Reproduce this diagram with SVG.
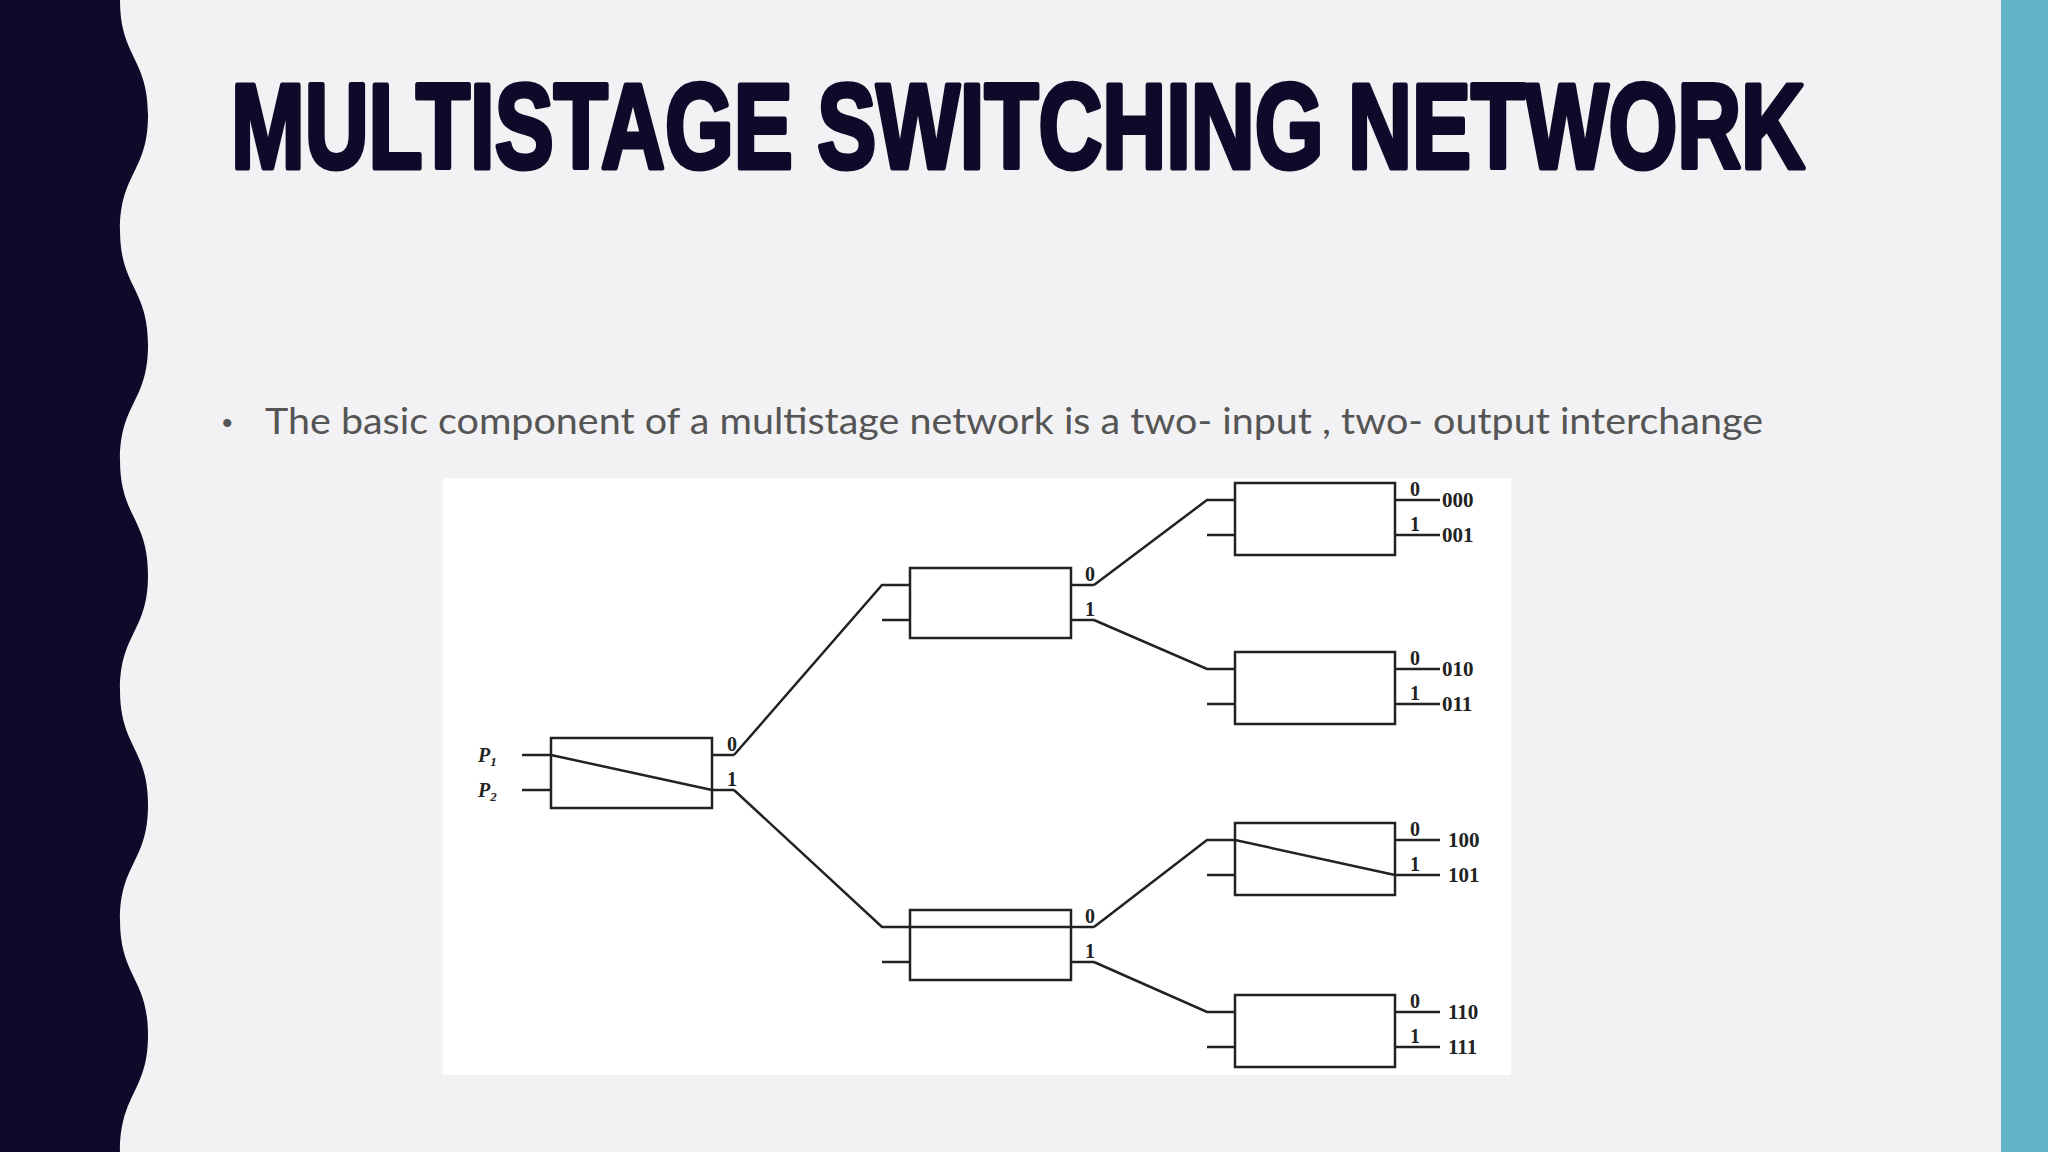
<svg xmlns="http://www.w3.org/2000/svg" width="2048" height="1152" viewBox="0 0 2048 1152">
<style>
.bx{fill:#fff;stroke:#222;stroke-width:2.5}
.ln{fill:none;stroke:#222;stroke-width:2.5}
.sm{font-family:"Liberation Serif",serif;font-weight:bold;font-size:20px;fill:#222}
.ol{font-family:"Liberation Serif",serif;font-weight:bold;font-size:21px;fill:#222}
</style>
<rect width="2048" height="1152" fill="#f2f2f4"/>
<path d="M0,0 H120 C120,57 148,58 148,115 C148,172 120,173 120,230 C120,287 148,288 148,345 C148,402 120,403 120,460 C120,517 148,518 148,575 C148,632 120,633 120,690 C120,747 148,748 148,805 C148,862 120,863 120,920 C120,977 148,978 148,1035 C148,1092 120,1093 120,1152 H0 Z" fill="#0d0a2a"/>
<rect x="2001" y="0" width="47" height="1152" fill="#62b3c6"/>
<text x="231" y="168" font-family="Liberation Sans,sans-serif" font-weight="bold" font-size="120" fill="#0d0a2a" stroke="#0d0a2a" stroke-width="5" stroke-linejoin="round" textLength="1574" lengthAdjust="spacingAndGlyphs">MULTISTAGE SWITCHING NETWORK</text>
<text x="222" y="433" font-family="Liberation Sans,sans-serif" font-size="30" fill="#555">•</text>
<text x="265" y="434" font-family="Lato,sans-serif" font-size="37" fill="#555" textLength="1498" lengthAdjust="spacingAndGlyphs">The basic component of a multistage network is a two- input , two- output interchange</text>
<rect x="443" y="478" width="1068" height="597" fill="#fff"/>
<g id="A">
<rect class="bx" x="551" y="738" width="161" height="70"/>
<path class="ln" d="M522,755 H551 M522,790 H551 M551,755 L712,790 M712,755 H734 M712,790 H734"/>
<text x="478" y="762" class="sm" font-style="italic">P<tspan font-size="13" dy="4">1</tspan></text>
<text x="478" y="797" class="sm" font-style="italic">P<tspan font-size="13" dy="4">2</tspan></text>
<text x="727" y="751" class="sm">0</text><text x="727" y="786" class="sm">1</text>
</g>
<g id="B1">
<rect class="bx" x="910" y="568" width="161" height="70"/>
<path class="ln" d="M882,620 H910 M1071,585 H1094 M1071,620 H1094"/>
<text x="1085" y="581" class="sm">0</text><text x="1085" y="616" class="sm">1</text>
</g>
<g id="B2">
<rect class="bx" x="910" y="910" width="161" height="70"/>
<path class="ln" d="M882,962 H910 M910,927 H1071 M1071,927 H1094 M1071,962 H1094"/>
<text x="1085" y="923" class="sm">0</text><text x="1085" y="958" class="sm">1</text>
</g>
<g id="C1">
<rect class="bx" x="1235" y="483" width="160" height="72"/>
<path class="ln" d="M1207,535 H1235 M1395,500 H1440 M1395,535 H1440"/>
<text x="1410" y="496" class="sm">0</text><text x="1410" y="531" class="sm">1</text>
<text x="1442" y="507" class="ol">000</text><text x="1442" y="542" class="ol">001</text>
</g>
<g id="C2">
<rect class="bx" x="1235" y="652" width="160" height="72"/>
<path class="ln" d="M1207,704 H1235 M1395,669 H1440 M1395,704 H1440"/>
<text x="1410" y="665" class="sm">0</text><text x="1410" y="700" class="sm">1</text>
<text x="1442" y="676" class="ol">010</text><text x="1442" y="711" class="ol">011</text>
</g>
<g id="C3">
<rect class="bx" x="1235" y="823" width="160" height="72"/>
<path class="ln" d="M1207,875 H1235 M1395,840 H1440 M1395,875 H1440 M1235,840 L1395,875"/>
<text x="1410" y="836" class="sm">0</text><text x="1410" y="871" class="sm">1</text>
<text x="1448" y="847" class="ol">100</text><text x="1448" y="882" class="ol">101</text>
</g>
<g id="C4">
<rect class="bx" x="1235" y="995" width="160" height="72"/>
<path class="ln" d="M1207,1047 H1235 M1395,1012 H1440 M1395,1047 H1440"/>
<text x="1410" y="1008" class="sm">0</text><text x="1410" y="1043" class="sm">1</text>
<text x="1448" y="1019" class="ol">110</text><text x="1448" y="1054" class="ol">111</text>
</g>
<g id="connectors">
<path class="ln" d="M734,755 L882,585 H910"/>
<path class="ln" d="M734,790 L882,927 H910"/>
<path class="ln" d="M1094,585 L1207,500 H1235"/>
<path class="ln" d="M1094,620 L1207,669 H1235"/>
<path class="ln" d="M1094,927 L1207,840 H1235"/>
<path class="ln" d="M1094,962 L1207,1012 H1235"/>
</g>
</svg>
